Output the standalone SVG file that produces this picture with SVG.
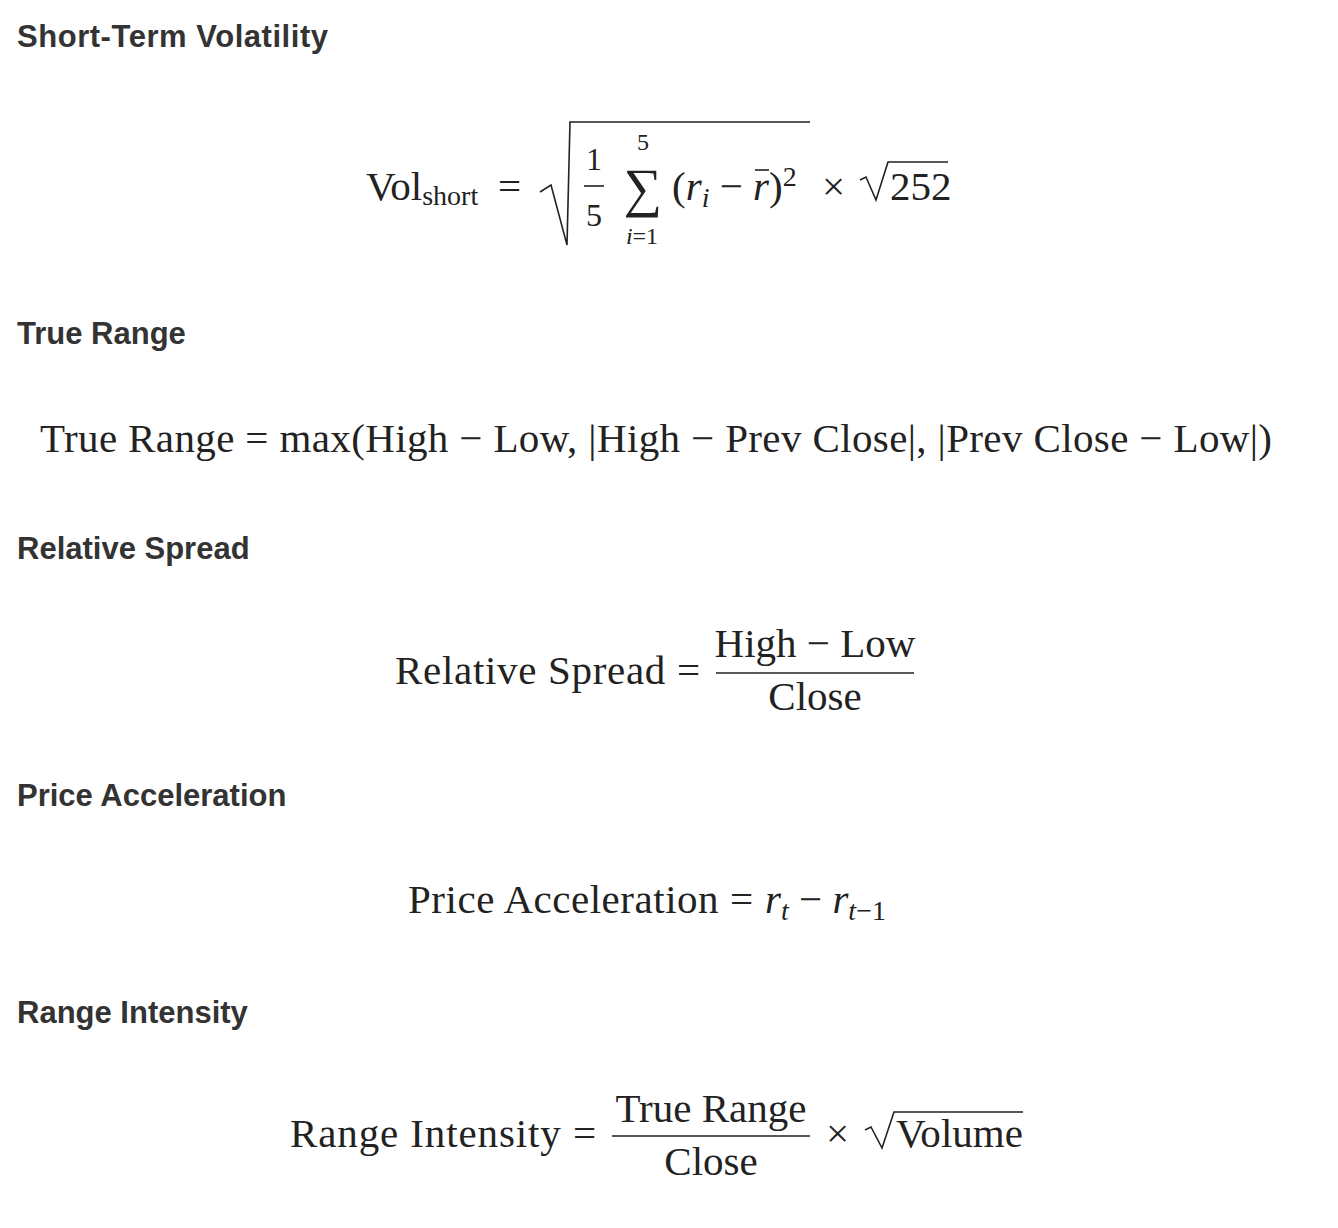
<svg xmlns="http://www.w3.org/2000/svg" width="1338" height="1228" viewBox="0 0 1338 1228">
<style>
.h{font-family:"Liberation Sans",Arial,sans-serif;font-weight:bold;font-size:31px;fill:#333}
.m{font-family:"Liberation Serif","DejaVu Serif",serif;font-size:41px;fill:#222}
.s{font-size:28px}
.i{font-style:italic}
.ln{stroke:#222;stroke-width:1.6;fill:none}
</style>
<rect width="1338" height="1228" fill="#fff"/>
<g id="h1"><text class="h" x="17" y="47" textLength="311">Short-Term Volatility</text></g>
<g id="f1">
<text class="m" x="366" y="200">Vol<tspan class="s" dy="5">short</tspan></text>
<text class="m" x="498" y="200">=</text>
<path class="ln" d="M540,192 L551,185 L567,245 L570,122 L810,122"/>
<text class="m" x="594" y="170" text-anchor="middle" style="font-size:32px">1</text>
<line class="ln" x1="584" y1="186" x2="604" y2="186"/>
<text class="m" x="594" y="226" text-anchor="middle" style="font-size:32px">5</text>
<text class="m" x="643" y="150" text-anchor="middle" style="font-size:24px">5</text>
<text class="m" x="643" y="206" text-anchor="middle" style="font-size:54px">∑</text>
<text class="m" x="642" y="244" text-anchor="middle" style="font-size:24px"><tspan class="i">i</tspan>=1</text>
<text class="m" x="672" y="200">(<tspan class="i">r</tspan><tspan class="i s" dy="7">i</tspan><tspan dy="-7"> − </tspan><tspan class="i">r</tspan>)<tspan class="s" dy="-14">2</tspan></text>
<line class="ln" x1="755" y1="170" x2="769" y2="170"/>
<text class="m" x="822" y="200">×</text>
<path class="ln" d="M860,180 L866,177 L876,200 L888,162 L948,162"/>
<text class="m" x="890" y="200">252</text>
</g>
<g id="h2"><text class="h" x="17" y="344">True Range</text></g>
<g id="f2"><text class="m" x="40" y="452" textLength="1232">True Range = max(High − Low, |High − Prev Close|, |Prev Close − Low|)</text></g>
<g id="h3"><text class="h" x="17" y="559">Relative Spread</text></g>
<g id="f3">
<text class="m" x="395" y="684" textLength="305">Relative Spread =</text>
<text class="m" x="815" y="657" text-anchor="middle">High − Low</text>
<line class="ln" x1="716" y1="673" x2="914" y2="673"/>
<text class="m" x="815" y="710" text-anchor="middle">Close</text>
</g>
<g id="h4"><text class="h" x="17" y="806">Price Acceleration</text></g>
<g id="f4"><text class="m" x="408" y="913" textLength="345">Price Acceleration = </text><text class="m" x="765" y="913"><tspan class="i">r</tspan><tspan class="i s" dy="7">t</tspan><tspan dy="-7"> − </tspan><tspan class="i">r</tspan><tspan class="s" dy="7"><tspan class="i">t</tspan>−1</tspan></text></g>
<g id="h5"><text class="h" x="17" y="1023">Range Intensity</text></g>
<g id="f5">
<text class="m" x="290" y="1147" textLength="306">Range Intensity =</text>
<text class="m" x="711" y="1122" text-anchor="middle">True Range</text>
<line class="ln" x1="612" y1="1136" x2="810" y2="1136"/>
<text class="m" x="711" y="1175" text-anchor="middle">Close</text>
<text class="m" x="826" y="1147">×</text>
<path class="ln" d="M865,1130 L871,1127 L882,1148 L894,1112 L1023,1112"/>
<text class="m" x="896" y="1147" textLength="127">Volume</text>
</g>
</svg>
